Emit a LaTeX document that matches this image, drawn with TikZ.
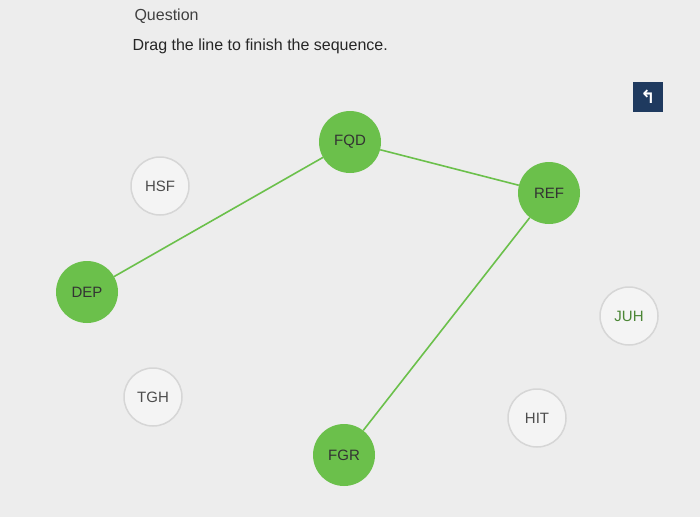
\documentclass[tikz,border=0pt]{standalone}
\usepackage{fontspec}
\setmainfont{Liberation Sans}
\newfontfamily\djv{DejaVu Sans}
\definecolor{gr}{HTML}{6BC04B}
\definecolor{bg}{HTML}{EDEDED}
\definecolor{navy}{HTML}{1F3A5F}
\definecolor{ring}{HTML}{D6D6D6}
\tikzset{x=1pt,y=-1pt,
 on/.style={circle,fill=gr,minimum size=62pt,inner sep=0pt,font=\fontsize{15}{15}\selectfont,text=black!80},
 off/.style={circle,draw=ring,line width=1.5pt,fill=bg!60!white,minimum size=58pt,inner sep=0pt,font=\fontsize{15}{15}\selectfont,text=black!70},
 link/.style={draw=gr,line width=1.6pt}}
\begin{document}
\begin{tikzpicture}
\fill[bg] (0,0) rectangle (700,517);
\useasboundingbox (0,0) rectangle (700,517);
\node[anchor=west,font=\fontsize{16}{16}\selectfont,text=black!75] (q) at (131,16) {Question};
\node[anchor=west,font=\fontsize{16}{16}\selectfont,text=black!85] (d) at (129,46) {Drag the line to finish the sequence.};
\node[fill=navy,minimum size=30pt,inner sep=0pt,text=white,font=\djv\bfseries\fontsize{18}{18}\selectfont] (u) at (648,97) {↰};
\node[on] (fqd) at (350,142) {FQD};
\node[on] (ref) at (549,193) {REF};
\node[on] (dep) at (87,292) {DEP};
\node[on] (fgr) at (344,455) {FGR};
\node[off] (hsf) at (160,186) {HSF};
\node[off] (tgh) at (153,397) {TGH};
\node[off] (hit) at (537,418) {HIT};
\node[off,text=gr!70!black] (juh) at (629,316) {JUH};
\draw[link] (dep) -- (fqd);
\draw[link] (fqd) -- (ref);
\draw[link] (ref) -- (fgr);
\end{tikzpicture}
\end{document}
